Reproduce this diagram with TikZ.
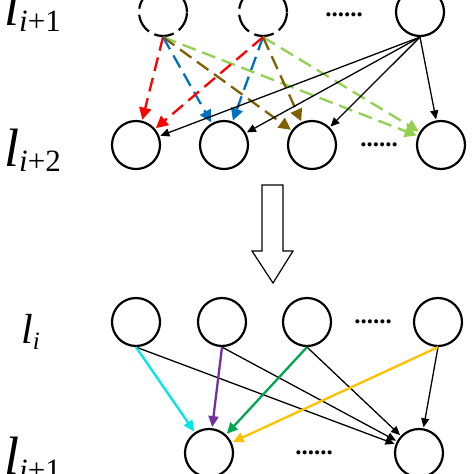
\documentclass[tikz,border=0pt]{standalone}
\usepackage{fontspec}
\setmainfont{Liberation Serif}
\usetikzlibrary{arrows.meta}
\definecolor{cred}{RGB}{255,0,0}
\definecolor{cblue}{RGB}{0,112,192}
\definecolor{cbrown}{RGB}{127,96,0}
\definecolor{cgreenl}{RGB}{146,208,80}
\definecolor{ccyan}{RGB}{0,230,230}
\definecolor{cpurple}{RGB}{112,48,160}
\definecolor{cgreen}{RGB}{0,166,80}
\definecolor{cyellow}{RGB}{255,192,0}
\begin{document}
\begin{tikzpicture}[x=1pt,y=-1pt,
  neuron/.style={circle,draw,line width=2.2pt,minimum size=48pt,inner sep=0pt},
  dneuron/.style={neuron,dash pattern=on 20pt off 6pt},
  dotsnode/.style={font=\bfseries\fontsize{25}{25}\selectfont,inner sep=0pt},
  conn/.style={line width=1.3pt,shorten >=1pt,-{Triangle[length=9pt,width=8pt]}},
  dconn/.style={line width=2.3pt,shorten >=1pt,dash pattern=on 14pt off 7pt,-{Triangle[length=12pt,width=12pt]}},
  cconn/.style={line width=2.3pt,shorten >=1pt,-{Triangle[length=11pt,width=10pt]}},
  lab/.style={inner sep=0pt,anchor=base west},
  bigf/.style={font=\fontsize{54}{54}\selectfont\itshape},
  hollow/.style={draw,line width=1.2pt,fill=white}]
\useasboundingbox (0,0) rectangle (474,474);
% top section
\node[dneuron] (a1) at (163,12) {};
\node[dneuron] (a2) at (263,12) {};
\node[neuron] (a4) at (420,12) {};
\node[dotsnode] (d1) at (344,15) {......};
\node[neuron] (b1) at (136,145) {};
\node[neuron] (b2) at (224,145) {};
\node[neuron] (b3) at (312,145) {};
\node[neuron] (b4) at (441,145) {};
\node[dotsnode] (d2) at (379,145) {......};
\node[lab,bigf] (L1) at (4,25) {l\raisebox{-6pt}{\fontsize{31}{31}\selectfont\itshape i\upshape +1}};
\node[lab,bigf] (L2) at (4,166) {l\raisebox{-5pt}{\fontsize{31}{31}\selectfont\itshape i\upshape +2}};
\foreach \s in {a1,a2}{
  \draw[dconn,cgreenl] (\s.south) -- (b4);
  \draw[dconn,cbrown] (\s.south) -- (b3);
  \draw[dconn,cblue] (\s.south) -- (b2);
  \draw[dconn,cred] (\s.south) -- (b1);
}
\foreach \t in {b1,b2,b3,b4}{
  \draw[conn] (a4.south) -- (\t);
}
% hollow arrow
\draw[hollow] (262,185) -- (283,185) -- (283,251) -- (293,251) -- (273,283) -- (252,251) -- (262,251) -- cycle;
% bottom section
\node[neuron] (c1) at (136,322) {};
\node[neuron] (c2) at (222,322) {};
\node[neuron] (c3) at (307,322) {};
\node[neuron] (c4) at (438,322) {};
\node[dotsnode] (d3) at (373,322) {......};
\node[neuron] (e1) at (209,453) {};
\node[neuron] (e2) at (419,453) {};
\node[dotsnode] (d4) at (314,453) {......};
\node[lab,font=\fontsize{42}{42}\selectfont\itshape] (L3) at (21,343) {l\raisebox{-6pt}{\fontsize{25}{25}\selectfont\itshape i}};
\node[lab,bigf] (L4) at (4,474) {l\raisebox{-6pt}{\fontsize{31}{31}\selectfont\itshape i\upshape +1}};
\draw[conn] (c1.south) -- (e2);
\draw[conn] (c2.south) -- (e2);
\draw[conn] (c3.south) -- (e2);
\draw[conn] (c4.south) -- (e2);
\draw[cconn,ccyan] (c1.south) -- (e1);
\draw[cconn,cpurple] (c2.south) -- (e1);
\draw[cconn,cgreen] (c3.south) -- (e1);
\draw[cconn,cyellow] (c4.south) -- (e1);
\end{tikzpicture}
\end{document}
